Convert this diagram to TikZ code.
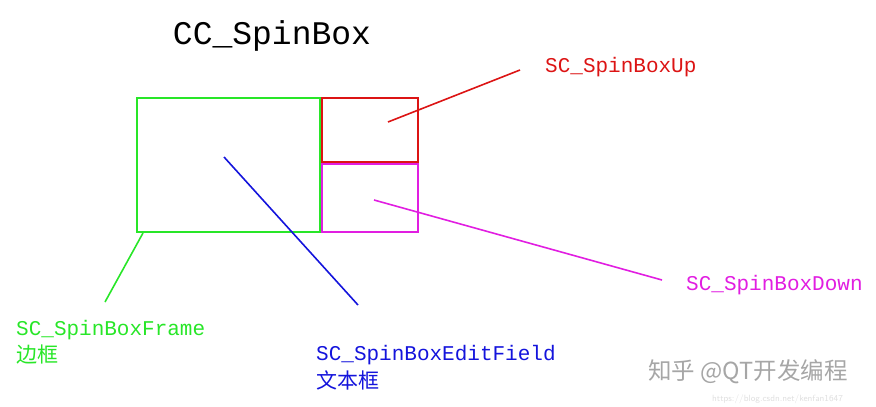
\documentclass[tikz,border=0pt]{standalone}
\usepackage{fontspec}
\setmonofont{Liberation Mono}
\newfontfamily\cjk{Noto Sans CJK SC}
\definecolor{gr}{RGB}{40,230,40}
\definecolor{rd}{RGB}{220,20,20}
\definecolor{mg}{RGB}{225,30,225}
\definecolor{bl}{RGB}{20,20,220}
\tikzset{lbl/.style={anchor=west,inner sep=0,font=\ttfamily\fontsize{21}{22}\selectfont},
 cj/.style={font=\cjk\fontsize{21}{22}\selectfont},
 box/.style={line width=2pt}, ln/.style={line width=1.6pt}}
\begin{document}
\begin{tikzpicture}[x=1pt,y=-1pt]
\useasboundingbox (0,0) rectangle (876,407);
\node[inner sep=0,font=\ttfamily\fontsize{33}{35}\selectfont] (title) at (272,36) {CC\_SpinBox};
\draw[box,gr] (137,98) rectangle (320,232);
\draw[box,rd] (322,98) rectangle (418,162);
\draw[box,mg] (322,164) rectangle (418,232);
\coordinate (u1) at (388,122); \coordinate (u2) at (520,70);
\coordinate (d1) at (374,200); \coordinate (d2) at (662,280);
\coordinate (e1) at (224,157); \coordinate (e2) at (358,305);
\coordinate (f1) at (143,233); \coordinate (f2) at (105,302);
\draw[ln,rd] (u1)--(u2);
\draw[ln,mg] (d1)--(d2);
\draw[ln,bl] (e1)--(e2);
\draw[ln,gr] (f1)--(f2);
\node[lbl,rd] (up) at (545,67) {SC\_SpinBoxUp};
\node[lbl,mg] (down) at (686,285) {SC\_SpinBoxDown};
\node[lbl,gr] (frame) at (16,330) {SC\_SpinBoxFrame};
\node[lbl,gr,cj] (frame2) at (16,355) {边框};
\node[lbl,bl] (edit) at (316,355) {SC\_SpinBoxEditField};
\node[lbl,bl,cj] (edit2) at (316,380) {文本框};
\node[anchor=west,inner sep=0,gray!70,font=\cjk\fontsize{23.5}{25}\selectfont] (wm) at (648,372) {知乎 @QT开发编程};
\node[anchor=west,inner sep=0,gray!25,font=\sffamily\fontsize{9}{10}\selectfont] (url) at (712,399) {https://blog.csdn.net/kenfan1647};
\end{tikzpicture}
\end{document}
